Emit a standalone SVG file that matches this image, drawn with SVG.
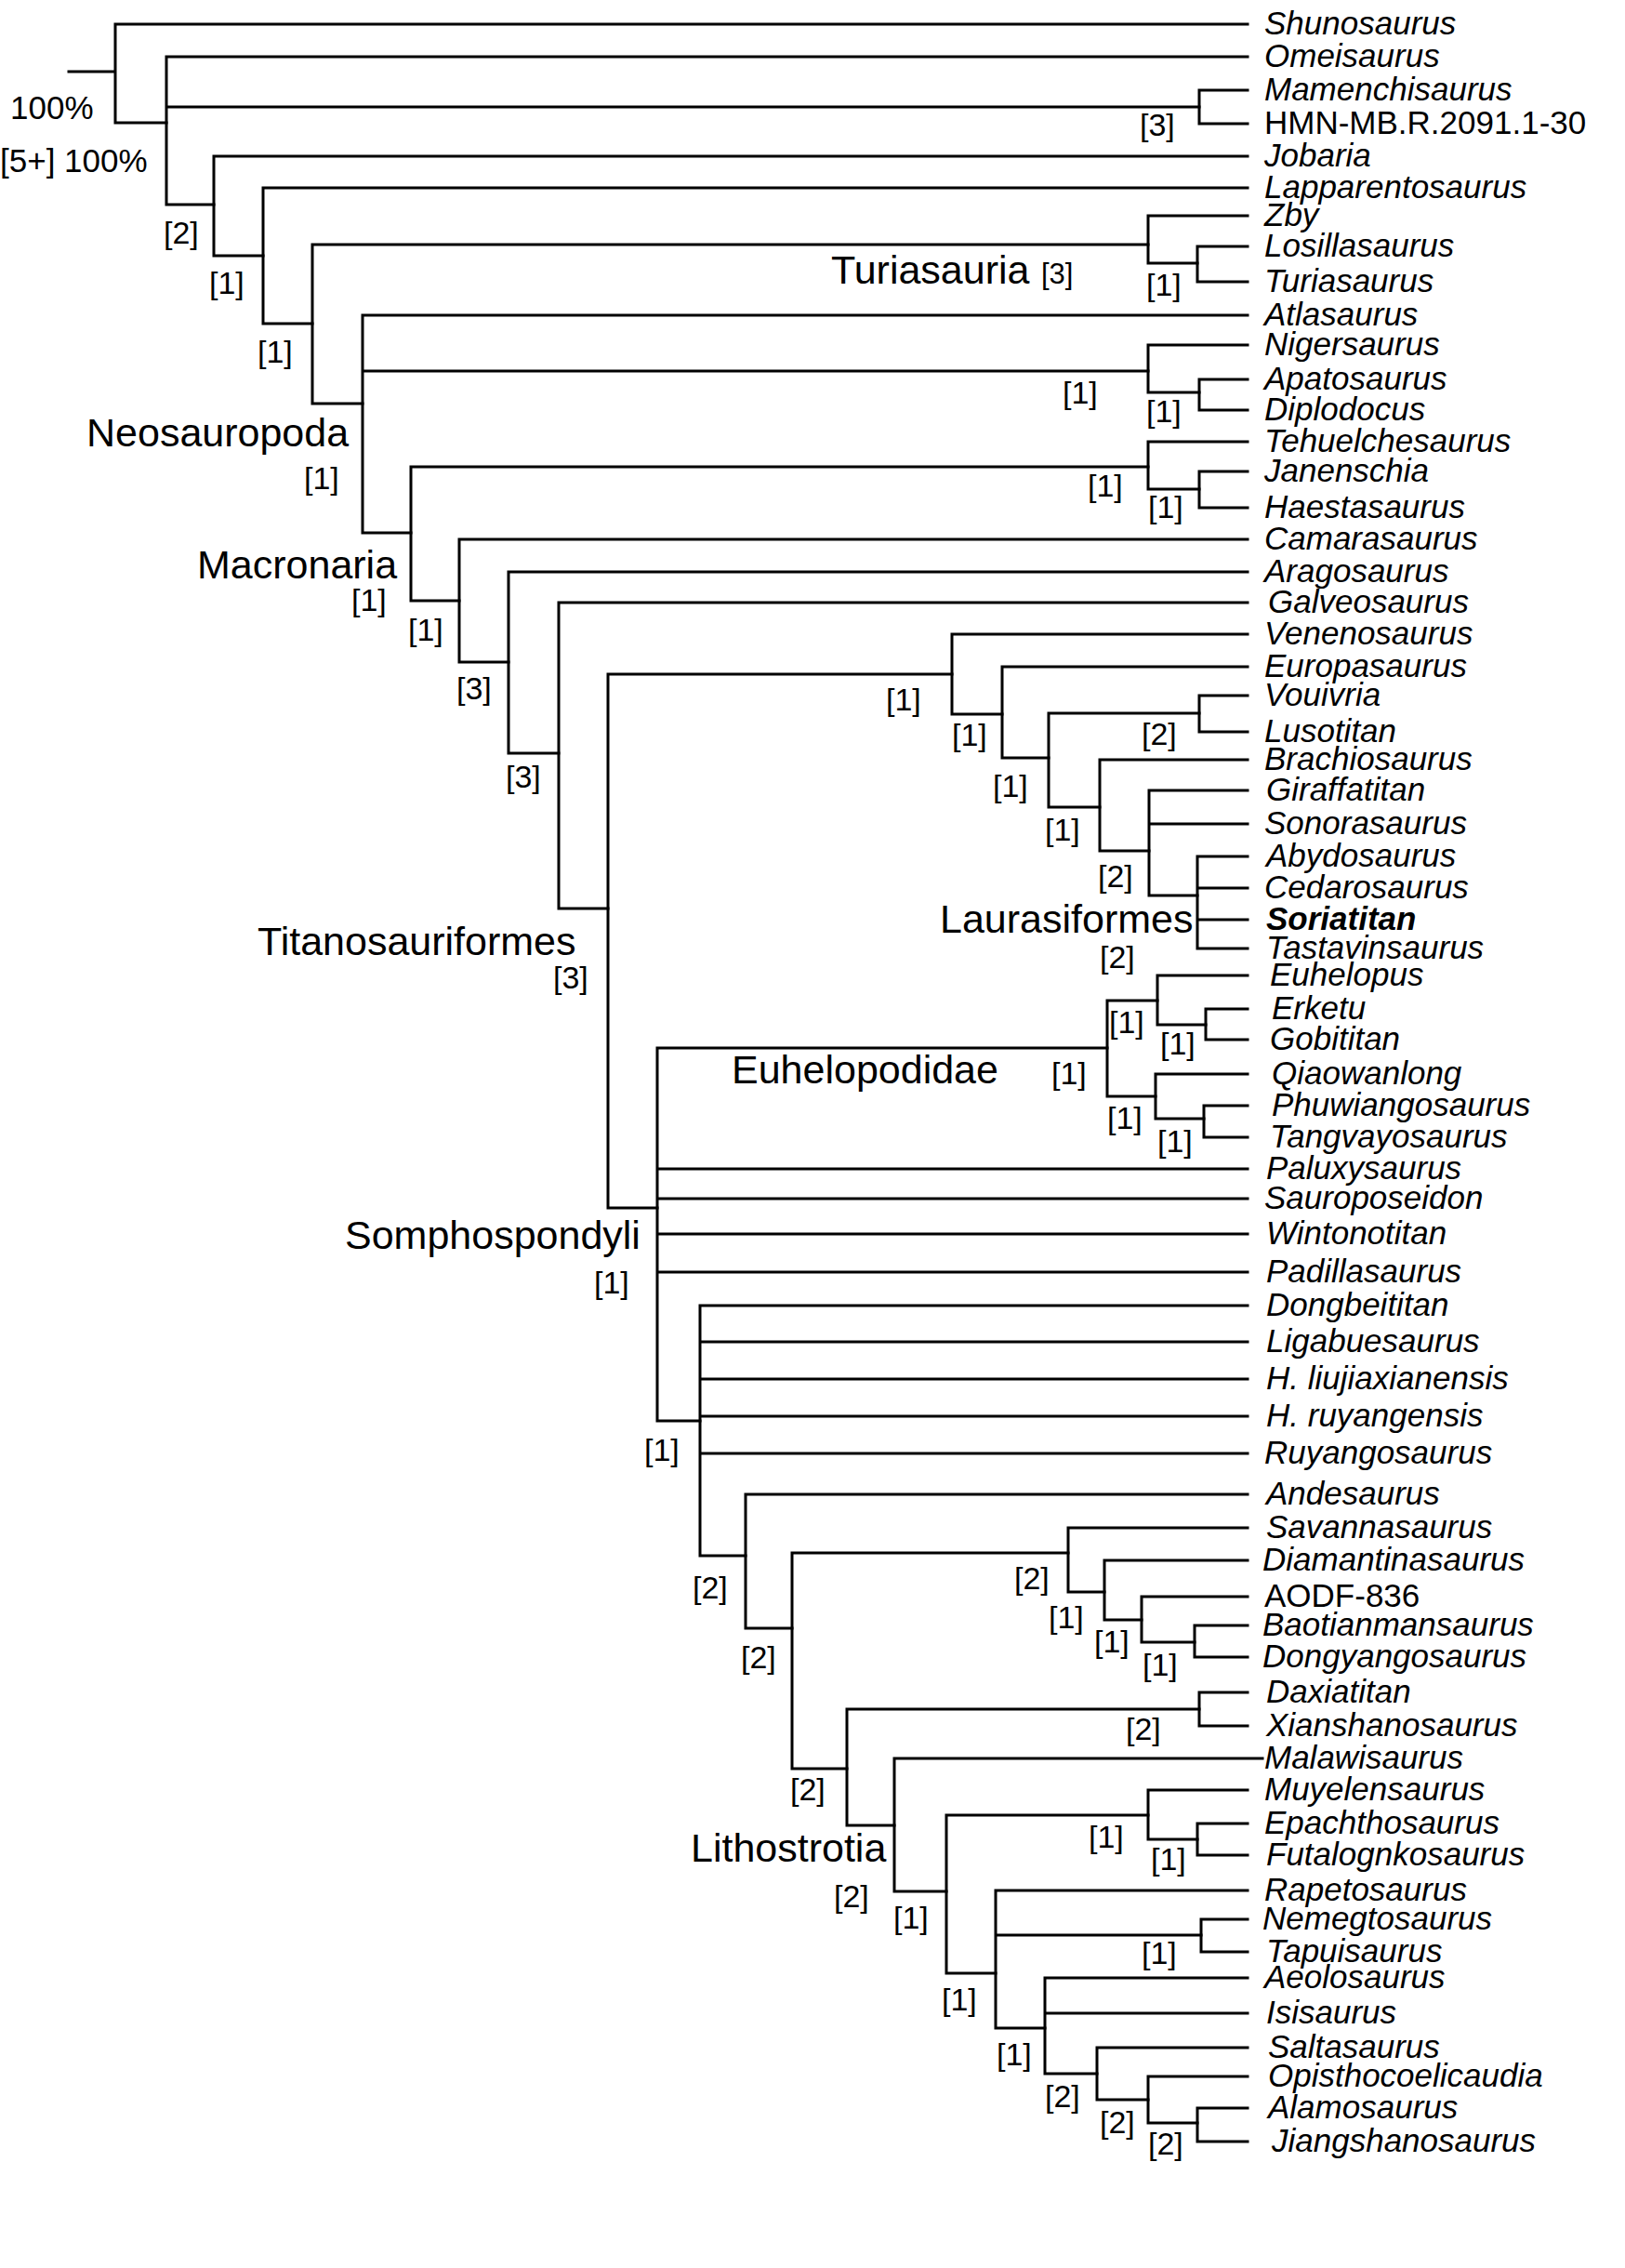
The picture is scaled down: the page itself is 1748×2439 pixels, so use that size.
<svg xmlns="http://www.w3.org/2000/svg" width="1748" height="2439" viewBox="0 0 1748 2439">
<style>
.br{fill:none;stroke:#000;stroke-width:3;stroke-linecap:square}
.t{font-family:"Liberation Sans",Arial,sans-serif;font-size:35px;font-style:italic;fill:#000}
.u{font-family:"Liberation Sans",Arial,sans-serif;font-size:35px;fill:#000}
.b{font-weight:bold}
.s{font-family:"Liberation Sans",Arial,sans-serif;font-size:34px;fill:#000}
.c{font-family:"Liberation Sans",Arial,sans-serif;font-size:43px;fill:#000}
</style>
<rect width="1748" height="2439" fill="#fff"/>
<g id="connectors" class="br">
<path d="M74,77H124M124,26V132M124,26H1342M124,132H179"/>
<path d="M179,61V220M179,61H1342M179,115H1290M179,220H230"/>
<path d="M1290,97V133M1290,97H1342M1290,133H1342"/>
<path d="M230,168V275M230,168H1342M230,275H283"/>
<path d="M283,202V348M283,202H1342M283,348H336"/>
<path d="M336,263V434M336,263H1235M336,434H390"/>
<path d="M1235,232V283M1235,232H1342M1235,283H1288"/>
<path d="M1288,265V303M1288,265H1342M1288,303H1342"/>
<path d="M390,339V573M390,339H1342M390,399H1235M390,573H442"/>
<path d="M1235,371V422M1235,371H1342M1235,422H1290"/>
<path d="M1290,408V441M1290,408H1342M1290,441H1342"/>
<path d="M442,502V646M442,502H1235M442,646H494"/>
<path d="M1235,475V526M1235,475H1342M1235,526H1290"/>
<path d="M1290,507V546M1290,507H1342M1290,546H1342"/>
<path d="M494,580V712M494,580H1342M494,712H547"/>
<path d="M547,615V810M547,615H1342M547,810H601"/>
<path d="M601,648V977M601,648H1342M601,977H654"/>
<path d="M654,725V1299M654,725H1024M654,1299H707"/>
<path d="M1024,682V768M1024,682H1342M1024,768H1078"/>
<path d="M1078,717V815M1078,717H1342M1078,815H1128"/>
<path d="M1128,767V868M1128,767H1290M1128,868H1183"/>
<path d="M1290,748V787M1290,748H1342M1290,787H1342"/>
<path d="M1183,817V915M1183,817H1342M1183,915H1236"/>
<path d="M1236,850V963M1236,850H1342M1236,886H1342M1236,963H1288"/>
<path d="M1288,921V1020M1288,921H1342M1288,955H1342M1288,989H1342M1288,1020H1342"/>
<path d="M707,1127V1528M707,1127H1191M707,1257H1342M707,1289H1342M707,1327H1342M707,1368H1342M707,1528H753"/>
<path d="M1191,1076V1179M1191,1076H1245M1191,1179H1243"/>
<path d="M1245,1049V1102M1245,1049H1342M1245,1102H1297"/>
<path d="M1297,1085V1118M1297,1085H1342M1297,1118H1342"/>
<path d="M1243,1155V1203M1243,1155H1342M1243,1203H1295"/>
<path d="M1295,1189V1223M1295,1189H1342M1295,1223H1342"/>
<path d="M753,1404V1673M753,1404H1342M753,1443H1342M753,1483H1342M753,1523H1342M753,1563H1342M753,1673H802"/>
<path d="M802,1607V1751M802,1607H1342M802,1751H852"/>
<path d="M852,1670V1902M852,1670H1149M852,1902H911"/>
<path d="M1149,1643V1712M1149,1643H1342M1149,1712H1188"/>
<path d="M1188,1678V1742M1188,1678H1342M1188,1742H1228"/>
<path d="M1228,1717V1766M1228,1717H1342M1228,1766H1285"/>
<path d="M1285,1748V1782M1285,1748H1342M1285,1782H1342"/>
<path d="M911,1838V1963M911,1838H1290M911,1963H962"/>
<path d="M1290,1820V1856M1290,1820H1342M1290,1856H1342"/>
<path d="M962,1891V2034M962,1891H1358M962,2034H1018"/>
<path d="M1018,1952V2122M1018,1952H1235M1018,2122H1071"/>
<path d="M1235,1925V1978M1235,1925H1342M1235,1978H1288"/>
<path d="M1288,1961V1995M1288,1961H1342M1288,1995H1342"/>
<path d="M1071,2033V2181M1071,2033H1342M1071,2081H1292M1071,2181H1124"/>
<path d="M1292,2064V2099M1292,2064H1342M1292,2099H1342"/>
<path d="M1124,2127V2230M1124,2127H1342M1124,2165H1342M1124,2230H1180"/>
<path d="M1180,2202V2258M1180,2202H1342M1180,2258H1235"/>
<path d="M1235,2233V2283M1235,2233H1342M1235,2283H1288"/>
<path d="M1288,2267V2303M1288,2267H1342M1288,2303H1342"/>
</g>
<g id="taxa">
<g id="n-shunosaurus"><text class="t" x="1360" y="37">Shunosaurus</text></g>
<g id="n-omeisaurus"><text class="t" x="1360" y="72">Omeisaurus</text></g>
<g id="n-mamenchisaurus"><text class="t" x="1360" y="108">Mamenchisaurus</text></g>
<g id="n-hmn"><text class="u" x="1360" y="144">HMN-MB.R.2091.1-30</text></g>
<g id="n-jobaria"><text class="t" x="1360" y="179">Jobaria</text></g>
<g id="n-lapparentosaurus"><text class="t" x="1360" y="213">Lapparentosaurus</text></g>
<g id="n-zby"><text class="t" x="1360" y="243">Zby</text></g>
<g id="n-losillasaurus"><text class="t" x="1360" y="276">Losillasaurus</text></g>
<g id="n-turiasaurus"><text class="t" x="1360" y="314">Turiasaurus</text></g>
<g id="n-atlasaurus"><text class="t" x="1360" y="350">Atlasaurus</text></g>
<g id="n-nigersaurus"><text class="t" x="1360" y="382">Nigersaurus</text></g>
<g id="n-apatosaurus"><text class="t" x="1360" y="419">Apatosaurus</text></g>
<g id="n-diplodocus"><text class="t" x="1360" y="452">Diplodocus</text></g>
<g id="n-tehuelchesaurus"><text class="t" x="1360" y="486">Tehuelchesaurus</text></g>
<g id="n-janenschia"><text class="t" x="1360" y="518">Janenschia</text></g>
<g id="n-haestasaurus"><text class="t" x="1360" y="557">Haestasaurus</text></g>
<g id="n-camarasaurus"><text class="t" x="1360" y="591">Camarasaurus</text></g>
<g id="n-aragosaurus"><text class="t" x="1360" y="626">Aragosaurus</text></g>
<g id="n-galveosaurus"><text class="t" x="1364" y="659">Galveosaurus</text></g>
<g id="n-venenosaurus"><text class="t" x="1360" y="693">Venenosaurus</text></g>
<g id="n-europasaurus"><text class="t" x="1360" y="728">Europasaurus</text></g>
<g id="n-vouivria"><text class="t" x="1360" y="759">Vouivria</text></g>
<g id="n-lusotitan"><text class="t" x="1360" y="798">Lusotitan</text></g>
<g id="n-brachiosaurus"><text class="t" x="1360" y="828">Brachiosaurus</text></g>
<g id="n-giraffatitan"><text class="t" x="1362" y="861">Giraffatitan</text></g>
<g id="n-sonorasaurus"><text class="t" x="1360" y="897">Sonorasaurus</text></g>
<g id="n-abydosaurus"><text class="t" x="1362" y="932">Abydosaurus</text></g>
<g id="n-cedarosaurus"><text class="t" x="1360" y="966">Cedarosaurus</text></g>
<g id="n-soriatitan"><text class="t b" x="1362" y="1000">Soriatitan</text></g>
<g id="n-tastavinsaurus"><text class="t" x="1362" y="1031">Tastavinsaurus</text></g>
<g id="n-euhelopus"><text class="t" x="1366" y="1060">Euhelopus</text></g>
<g id="n-erketu"><text class="t" x="1368" y="1096">Erketu</text></g>
<g id="n-gobititan"><text class="t" x="1366" y="1129">Gobititan</text></g>
<g id="n-qiaowanlong"><text class="t" x="1368" y="1166">Qiaowanlong</text></g>
<g id="n-phuwiangosaurus"><text class="t" x="1368" y="1200">Phuwiangosaurus</text></g>
<g id="n-tangvayosaurus"><text class="t" x="1366" y="1234">Tangvayosaurus</text></g>
<g id="n-paluxysaurus"><text class="t" x="1362" y="1268">Paluxysaurus</text></g>
<g id="n-sauroposeidon"><text class="t" x="1360" y="1300">Sauroposeidon</text></g>
<g id="n-wintonotitan"><text class="t" x="1362" y="1338">Wintonotitan</text></g>
<g id="n-padillasaurus"><text class="t" x="1362" y="1379">Padillasaurus</text></g>
<g id="n-dongbeititan"><text class="t" x="1362" y="1415">Dongbeititan</text></g>
<g id="n-ligabuesaurus"><text class="t" x="1362" y="1454">Ligabuesaurus</text></g>
<g id="n-hliujiaxianensis"><text class="t" x="1362" y="1494">H. liujiaxianensis</text></g>
<g id="n-hruyangensis"><text class="t" x="1362" y="1534">H. ruyangensis</text></g>
<g id="n-ruyangosaurus"><text class="t" x="1360" y="1574">Ruyangosaurus</text></g>
<g id="n-andesaurus"><text class="t" x="1362" y="1618">Andesaurus</text></g>
<g id="n-savannasaurus"><text class="t" x="1362" y="1654">Savannasaurus</text></g>
<g id="n-diamantinasaurus"><text class="t" x="1358" y="1689">Diamantinasaurus</text></g>
<g id="n-aodf836"><text class="u" x="1360" y="1728">AODF-836</text></g>
<g id="n-baotianmansaurus"><text class="t" x="1358" y="1759">Baotianmansaurus</text></g>
<g id="n-dongyangosaurus"><text class="t" x="1358" y="1793">Dongyangosaurus</text></g>
<g id="n-daxiatitan"><text class="t" x="1362" y="1831">Daxiatitan</text></g>
<g id="n-xianshanosaurus"><text class="t" x="1362" y="1867">Xianshanosaurus</text></g>
<g id="n-malawisaurus"><text class="t" x="1360" y="1902">Malawisaurus</text></g>
<g id="n-muyelensaurus"><text class="t" x="1360" y="1936">Muyelensaurus</text></g>
<g id="n-epachthosaurus"><text class="t" x="1360" y="1972">Epachthosaurus</text></g>
<g id="n-futalognkosaurus"><text class="t" x="1362" y="2006">Futalognkosaurus</text></g>
<g id="n-rapetosaurus"><text class="t" x="1360" y="2044">Rapetosaurus</text></g>
<g id="n-nemegtosaurus"><text class="t" x="1358" y="2075">Nemegtosaurus</text></g>
<g id="n-tapuisaurus"><text class="t" x="1362" y="2110">Tapuisaurus</text></g>
<g id="n-aeolosaurus"><text class="t" x="1360" y="2138">Aeolosaurus</text></g>
<g id="n-isisaurus"><text class="t" x="1362" y="2176">Isisaurus</text></g>
<g id="n-saltasaurus"><text class="t" x="1364" y="2213">Saltasaurus</text></g>
<g id="n-opisthocoelicaudia"><text class="t" x="1364" y="2244">Opisthocoelicaudia</text></g>
<g id="n-alamosaurus"><text class="t" x="1364" y="2278">Alamosaurus</text></g>
<g id="n-jiangshanosaurus"><text class="t" x="1368" y="2314">Jiangshanosaurus</text></g>
</g>
<g id="clades">
<g id="root-label"><text class="u" x="11" y="128">100%</text><text class="u" x="0" y="185">[5+] 100%</text></g>
<g id="turiasauria"><text class="c" x="894" y="305">Turiasauria</text><text class="s" x="1120" y="305" style="font-size:31px">[3]</text></g>
<g id="neosauropoda"><text class="c" x="93" y="480">Neosauropoda</text></g>
<g id="macronaria"><text class="c" x="212" y="622">Macronaria</text></g>
<g id="titanosauriformes"><text class="c" x="277" y="1027">Titanosauriformes</text></g>
<g id="laurasiformes"><text class="c" x="1011" y="1003">Laurasiformes</text></g>
<g id="euhelopodidae"><text class="c" x="787" y="1165">Euhelopodidae</text></g>
<g id="somphospondyli"><text class="c" x="371" y="1343">Somphospondyli</text></g>
<g id="lithostrotia"><text class="c" x="743" y="2002">Lithostrotia</text></g>
</g>
<g id="support">
<text class="s" x="176" y="262">[2]</text>
<text class="s" x="225" y="316">[1]</text>
<text class="s" x="277" y="390">[1]</text>
<text class="s" x="327" y="526">[1]</text>
<text class="s" x="378" y="657">[1]</text>
<text class="s" x="439" y="689">[1]</text>
<text class="s" x="491" y="752">[3]</text>
<text class="s" x="544" y="847">[3]</text>
<text class="s" x="595" y="1063">[3]</text>
<text class="s" x="639" y="1391">[1]</text>
<text class="s" x="1226" y="146">[3]</text>
<text class="s" x="1233" y="318">[1]</text>
<text class="s" x="1143" y="434">[1]</text>
<text class="s" x="1233" y="454">[1]</text>
<text class="s" x="1170" y="534">[1]</text>
<text class="s" x="1235" y="557">[1]</text>
<text class="s" x="953" y="764">[1]</text>
<text class="s" x="1024" y="802">[1]</text>
<text class="s" x="1228" y="801">[2]</text>
<text class="s" x="1068" y="857">[1]</text>
<text class="s" x="1124" y="904">[1]</text>
<text class="s" x="1181" y="954">[2]</text>
<text class="s" x="1183" y="1041">[2]</text>
<text class="s" x="1193" y="1111">[1]</text>
<text class="s" x="1248" y="1134">[1]</text>
<text class="s" x="1131" y="1166">[1]</text>
<text class="s" x="1191" y="1214">[1]</text>
<text class="s" x="1245" y="1239">[1]</text>
<text class="s" x="693" y="1571">[1]</text>
<text class="s" x="745" y="1719">[2]</text>
<text class="s" x="797" y="1794">[2]</text>
<text class="s" x="1091" y="1709">[2]</text>
<text class="s" x="1128" y="1751">[1]</text>
<text class="s" x="1177" y="1777">[1]</text>
<text class="s" x="1229" y="1802">[1]</text>
<text class="s" x="1211" y="1871">[2]</text>
<text class="s" x="850" y="1936">[2]</text>
<text class="s" x="1171" y="1987">[1]</text>
<text class="s" x="1238" y="2011">[1]</text>
<text class="s" x="897" y="2051">[2]</text>
<text class="s" x="961" y="2074">[1]</text>
<text class="s" x="1228" y="2112">[1]</text>
<text class="s" x="1013" y="2162">[1]</text>
<text class="s" x="1072" y="2221">[1]</text>
<text class="s" x="1124" y="2266">[2]</text>
<text class="s" x="1183" y="2294">[2]</text>
<text class="s" x="1235" y="2317">[2]</text>
</g>
</svg>
